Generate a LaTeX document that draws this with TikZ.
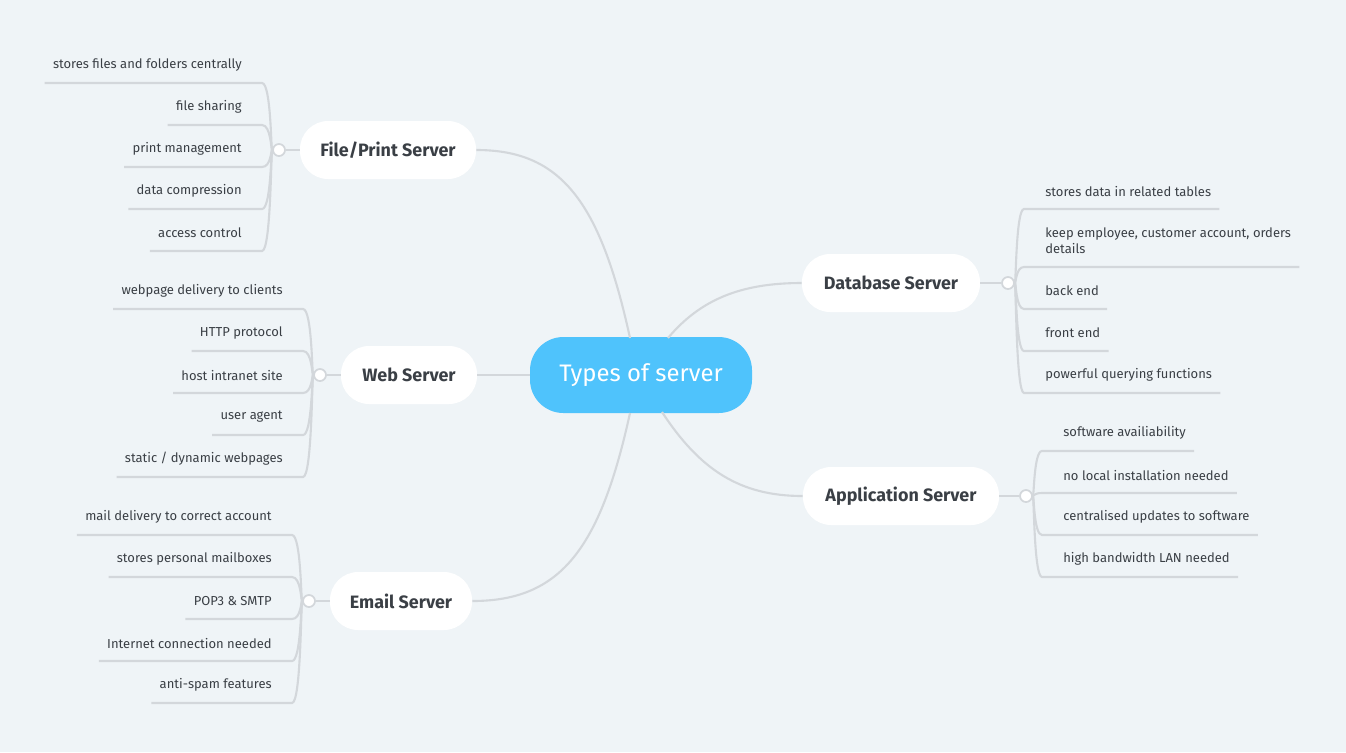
\documentclass[tikz,border=0pt]{standalone}
\usepackage{fontspec}
\setmainfont{Fira Sans}
\usetikzlibrary{calc}
\definecolor{bgc}{HTML}{EFF4F7}
\definecolor{linec}{HTML}{D3D7DB}
\definecolor{rootc}{HTML}{4FC3FC}
\definecolor{textc}{HTML}{3A3F45}
\tikzset{
  link/.style={draw=linec, line width=1.2pt},
  leaf/.style={inner sep=0pt, font=\fontsize{7.4}{9}\selectfont, text=textc},
  branch/.style={fill=white, rounded corners=16pt, minimum height=58*0.02cm, inner xsep=0pt,
    font=\fontsize{10.2}{12}\selectfont\bfseries, text=textc},
  junc/.style={circle, draw=linec, fill=white, line width=1pt, minimum size=12*0.02cm, inner sep=0pt}
}
\begin{document}
\begin{tikzpicture}[x=0.02cm,y=-0.02cm]
  \fill[bgc] (0,0) rectangle (1346,752);
  \useasboundingbox (0,0) rectangle (1346,752);

  % root
  \node[fill=rootc, rounded corners=19pt, minimum width=222*0.02cm, minimum height=76*0.02cm,
        text=white, font=\fontsize{13.6}{16}\selectfont] (root) at (641,375) {Types of server};

  % branches
  \node[branch, minimum width=176*0.02cm] (fps) at (388,150) {File/Print Server};
  \node[branch, minimum width=136*0.02cm] (web) at (409,375) {Web Server};
  \node[branch, minimum width=142*0.02cm] (mail) at (401,601) {Email Server};
  \node[branch, minimum width=178*0.02cm] (db) at (891,283) {Database Server};
  \node[branch, minimum width=196*0.02cm] (app) at (901,496) {Application Server};

  \draw[link] (630,338) .. controls (600,200) and (560,150) .. (fps.east);
  \draw[link] (root.west) -- (web.east);
  \draw[link] (630,413) .. controls (600,550) and (560,601) .. (mail.east);
  \draw[link] (668,338) .. controls (700,300) and (740,283) .. (db.west);
  \draw[link] (662,412) .. controls (700,470) and (740,496) .. (app.west);

  % junctions
  \node[junc] (jfps) at (279,150) {};
  \node[junc] (jweb) at (320,375) {};
  \node[junc] (jmail) at (309,601) {};
  \node[junc] (jdb) at (1008,283) {};
  \node[junc] (japp) at (1026,496) {};
  \draw[link] (fps.west) -- (jfps);
  \draw[link] (web.west) -- (jweb);
  \draw[link] (mail.west) -- (jmail);
  \draw[link] (db.east) -- (jdb);
  \draw[link] (app.east) -- (japp);

  % left leaves
  \foreach \t [count=\i] in {stores files and folders centrally, file sharing, print management,
      data compression, access control} {
    \pgfmathsetmacro\ty{65+42*(\i-1)}
    \node[leaf, anchor=east] (fp\i) at (242,\ty) {\t};
    \coordinate (fp\i r) at (262,\ty+18);
    \draw[link] ($(fp\i.west |- fp\i r)+(-8,0)$) -- (fp\i r) .. controls (271,\ty+18) and (271,150) .. (jfps.west);
  }
  \foreach \t [count=\i] in {webpage delivery to clients, HTTP protocol, host intranet site,
      user agent, static / dynamic webpages} {
    \pgfmathsetmacro\ty{291+42*(\i-1)}
    \node[leaf, anchor=east] (wb\i) at (283,\ty) {\t};
    \coordinate (wb\i r) at (303,\ty+18);
    \draw[link] ($(wb\i.west |- wb\i r)+(-8,0)$) -- (wb\i r) .. controls (312,\ty+18) and (312,375) .. (jweb.west);
  }
  \foreach \t [count=\i] in {mail delivery to correct account, stores personal mailboxes,
      POP3 \& SMTP, Internet connection needed, anti-spam features} {
    \pgfmathsetmacro\ty{517+42*(\i-1)}
    \node[leaf, anchor=east] (em\i) at (272,\ty) {\t};
    \coordinate (em\i r) at (292,\ty+18);
    \draw[link] ($(em\i.west |- em\i r)+(-8,0)$) -- (em\i r) .. controls (301,\ty+18) and (301,601) .. (jmail.west);
  }

  % right leaves
  \foreach \t/\ty/\uy [count=\i] in {stores data in related tables/191/209,
      {keep employee, customer account, orders\\details}/241/267,
      back end/291/309, front end/333/351, powerful querying functions/375/393} {
    \node[leaf, anchor=west, align=left] (db\i) at (1045,\ty) {\t};
    \coordinate (db\i l) at (1024,\uy);
    \draw[link] ($(db\i.east |- db\i l)+(8,0)$) -- (db\i l) .. controls (1016,\uy) and (1016,283) .. (jdb.east);
  }
  \foreach \t [count=\i] in {software availiability, no local installation needed,
      centralised updates to software, high bandwidth LAN needed} {
    \pgfmathsetmacro\ty{433+42*(\i-1)}
    \node[leaf, anchor=west] (ap\i) at (1063,\ty) {\t};
    \coordinate (ap\i l) at (1042,\ty+18);
    \draw[link] ($(ap\i.east |- ap\i l)+(8,0)$) -- (ap\i l) .. controls (1034,\ty+18) and (1034,496) .. (japp.east);
  }
\end{tikzpicture}
\end{document}
